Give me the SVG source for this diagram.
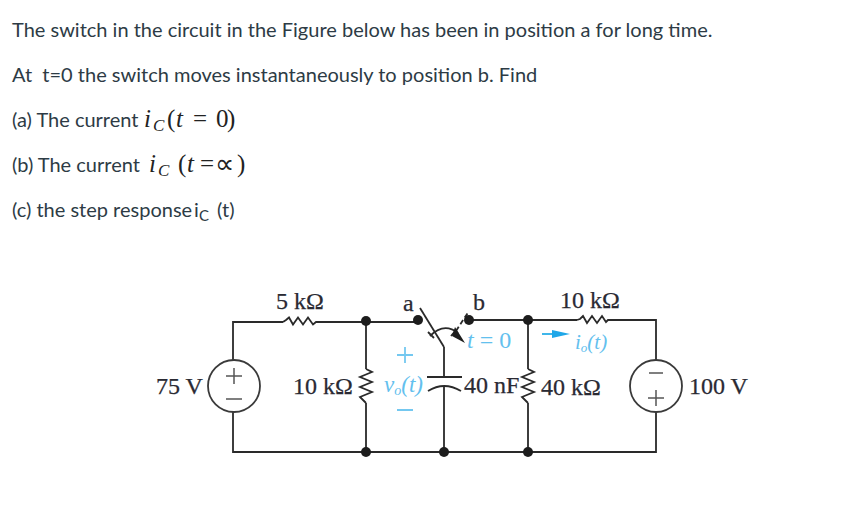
<svg xmlns="http://www.w3.org/2000/svg" width="867" height="515" viewBox="0 0 867 515">
<style>
.q{font-family:Lato,"Liberation Sans",sans-serif;font-size:20px;fill:#2d3b45;white-space:pre}
.m{font-family:"Liberation Serif",serif;font-size:25px;fill:#222}
.i{font-style:italic}
.sub{font-size:17px}
.c{font-family:"Liberation Serif",serif;font-size:24px;fill:#2a2a33;stroke:#2a2a33;stroke-width:.25}
.b{font-family:"Liberation Serif",serif;fill:#63c0ee}
.w{fill:none;stroke:#2a2a2a;stroke-width:1.8}
.d{fill:#1d1d1d}
.s{fill:#fff;stroke:#3a3a3a;stroke-width:1.8}
.p{fill:none;stroke:#555;stroke-width:1.5}
.bl{fill:none;stroke:#74c8f0;stroke-width:1.8}
</style>
<rect width="867" height="515" fill="#fff"/>
<g id="question">
<text class="q" x="12" y="37">The switch in the circuit in the Figure below has been in position a for long time.</text>
<text class="q" x="12" y="82">At  t=0 the switch moves instantaneously to position b. Find</text>
<text class="q" x="12" y="127">(a) The current</text>
<text class="m i" x="144" y="127">i</text><text class="m i sub" x="153" y="131">C</text>
<text class="m" x="167 176 193 216 227" y="127">(<tspan class="i">t</tspan>=0)</text>
<text class="q" x="12" y="172">(b) The current</text>
<text class="m i" x="149" y="172">i</text><text class="m i sub" x="158" y="176">C</text>
<text class="m" x="178 187 200" y="172">(<tspan class="i">t</tspan>=</text>
<text class="m" x="215" y="173" style="font-size:27px">∝</text>
<text class="m" x="237" y="172">)</text>
<text class="q" x="12" y="217">(c) the step response</text>
<text class="q" x="194" y="217">i</text>
<text class="q" x="199" y="221" font-size="15" style="font-size:15px">C</text>
<text class="q" x="217" y="217">(t)</text>
</g>
<g id="connectors">
<path class="w" d="M233 360V322H283M318 322H419"/>
<path class="w" d="M233 412V452H656V412"/>
<path class="w" d="M366 322V369M366 403V452"/>
<path class="w" d="M469 320H577M610 320H656V360"/>
<path class="w" d="M528 320V369M528 403V452"/>
<path class="w" d="M444 347V377M444 386V452"/>
</g>
<g id="r5k"><path class="w" d="M283 322l3-2 3-2.500 4 7 5-7 5 7 5-7 5 7 3-2.500h2"/><text class="c" x="276" y="309">5 kΩ</text></g>
<g id="r10k-top"><path class="w" d="M577 320l3-1 3-3 4 7 5-7 5 7 5-7 4 6 2-2h2"/><text class="c" x="560" y="308">10 kΩ</text></g>
<g id="r10k"><path class="w" d="M366 369l6 3-12 5 12 5-12 5 12 5-12 5 6 6"/><text class="c" x="293" y="394">10 kΩ</text></g>
<g id="r40k"><path class="w" d="M528 369l6 3-12 5 12 5-12 5 12 5-12 5 6 6"/><text class="c" x="541" y="395">40 kΩ</text></g>
<g id="v75"><circle class="s" cx="234" cy="386" r="26"/><path class="p" d="M226 376h16M234 368v16M226 399h16"/><text class="c" x="156" y="394">75 V</text></g>
<g id="v100"><circle class="s" cx="656" cy="386" r="26"/><path class="p" d="M649 373h14M648 398h16M656 390v16"/><text class="c" x="689" y="394">100 V</text></g>
<g id="capacitor"><path class="w" d="M427 377H462"/><path class="w" d="M428 391Q444 381 461 391"/><text class="c" x="464" y="393">40 nF</text></g>
<g id="switch">
<path class="w" d="M444 347L420 308"/>
<path class="w" d="M456 331L469 311" stroke-dasharray="5 3"/>
<path class="w" d="M430 336Q444 322 458 333"/>
<path class="w" d="M428 332l6 6M451 336l5-6"/>
<path class="d" d="M455 327L465 343L452 336Z"/>
<text class="c" x="403" y="311">a</text>
<text class="c" x="473" y="310">b</text>
<text class="b" x="467" y="348" font-size="24"><tspan font-style="italic">t</tspan> = 0</text>
</g>
<g id="labels">
<path class="bl" d="M397 355h16M405 347v16M397 410h16"/>
<text class="b" x="384" y="392" font-size="23" font-style="italic">v<tspan font-size="14" dy="3">o</tspan><tspan dy="-3">(t)</tspan></text>
<path class="bl" d="M542 334h15" style="stroke:#2aaee8"/>
<path d="M552 330L570 334L552 338Z" fill="#1fa7e8"/>
<text class="b" x="575" y="349" font-size="21" font-style="italic">i<tspan font-size="13" dy="3">o</tspan><tspan dy="-3">(t)</tspan></text>
</g>
<g id="nodes">
<circle class="d" cx="366" cy="321" r="5"/><circle class="d" cx="418" cy="320" r="5"/><circle class="d" cx="469" cy="320" r="5"/><circle class="d" cx="528" cy="320" r="5"/>
<circle class="d" cx="366" cy="452" r="5"/><circle class="d" cx="444" cy="452" r="5"/><circle class="d" cx="528" cy="452" r="5"/>
</g>
</svg>
